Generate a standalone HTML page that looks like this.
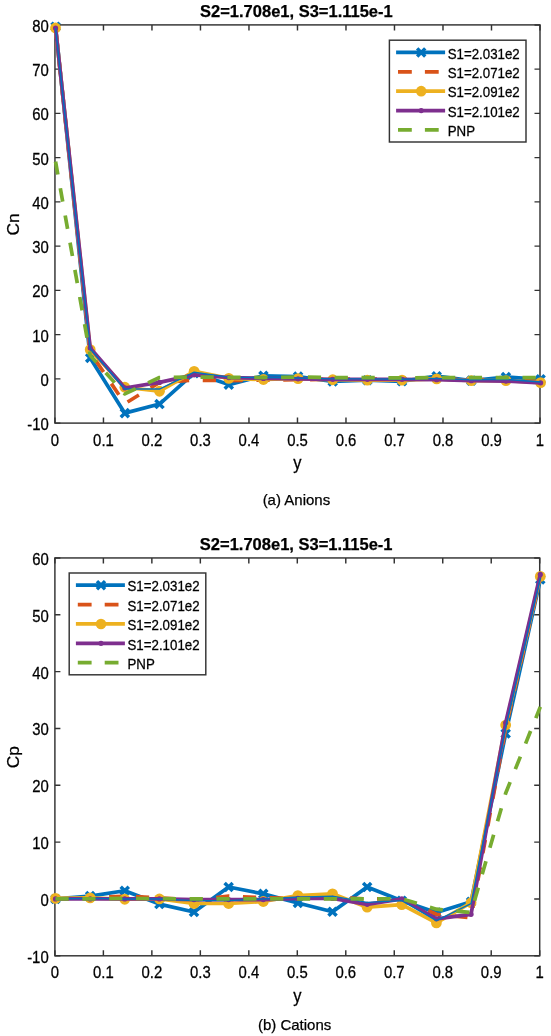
<!DOCTYPE html>
<html><head><meta charset="utf-8"><title>Cn and Cp plots</title>
<style>html,body{margin:0;padding:0;background:#fff;width:551px;height:1036px;overflow:hidden}svg{display:block}</style>
</head><body>
<svg width="551" height="1036" viewBox="0 0 551 1036" font-family='"Liberation Sans", Arial, Helvetica, sans-serif' fill="#000"><style>text{stroke:#000;stroke-width:0.25px}</style>
<path d="M54.95 423.1v-5.5M54.95 24.9v5.5M103.46 423.1v-5.5M103.46 24.9v5.5M151.96 423.1v-5.5M151.96 24.9v5.5M200.46 423.1v-5.5M200.46 24.9v5.5M248.97 423.1v-5.5M248.97 24.9v5.5M297.48 423.1v-5.5M297.48 24.9v5.5M345.98 423.1v-5.5M345.98 24.9v5.5M394.48 423.1v-5.5M394.48 24.9v5.5M442.99 423.1v-5.5M442.99 24.9v5.5M491.5 423.1v-5.5M491.5 24.9v5.5M540 423.1v-5.5M540 24.9v5.5M54.95 24.9h5.5M540 24.9h-5.5M54.95 69.14h5.5M540 69.14h-5.5M54.95 113.39h5.5M540 113.39h-5.5M54.95 157.63h5.5M540 157.63h-5.5M54.95 201.88h5.5M540 201.88h-5.5M54.95 246.12h5.5M540 246.12h-5.5M54.95 290.37h5.5M540 290.37h-5.5M54.95 334.61h5.5M540 334.61h-5.5M54.95 378.86h5.5M540 378.86h-5.5M54.95 423.1h5.5M540 423.1h-5.5" stroke="#333333" stroke-width="1.45" fill="none"/>
<rect x="54.95" y="24.9" width="485.05" height="398.2" fill="none" stroke="#333333" stroke-width="1.45"/>
<g font-size="14.9"><text transform="matrix(1 0 0 1.1 54.95 445.7)" text-anchor="middle">0</text><text transform="matrix(1 0 0 1.1 103.46 445.7)" text-anchor="middle">0.1</text><text transform="matrix(1 0 0 1.1 151.96 445.7)" text-anchor="middle">0.2</text><text transform="matrix(1 0 0 1.1 200.46 445.7)" text-anchor="middle">0.3</text><text transform="matrix(1 0 0 1.1 248.97 445.7)" text-anchor="middle">0.4</text><text transform="matrix(1 0 0 1.1 297.48 445.7)" text-anchor="middle">0.5</text><text transform="matrix(1 0 0 1.1 345.98 445.7)" text-anchor="middle">0.6</text><text transform="matrix(1 0 0 1.1 394.48 445.7)" text-anchor="middle">0.7</text><text transform="matrix(1 0 0 1.1 442.99 445.7)" text-anchor="middle">0.8</text><text transform="matrix(1 0 0 1.1 491.5 445.7)" text-anchor="middle">0.9</text><text transform="matrix(1 0 0 1.1 540 445.7)" text-anchor="middle">1</text><text transform="matrix(1 0 0 1.1 48.75 31.8)" text-anchor="end">80</text><text transform="matrix(1 0 0 1.1 48.75 76.04)" text-anchor="end">70</text><text transform="matrix(1 0 0 1.1 48.75 120.29)" text-anchor="end">60</text><text transform="matrix(1 0 0 1.1 48.75 164.53)" text-anchor="end">50</text><text transform="matrix(1 0 0 1.1 48.75 208.78)" text-anchor="end">40</text><text transform="matrix(1 0 0 1.1 48.75 253.02)" text-anchor="end">30</text><text transform="matrix(1 0 0 1.1 48.75 297.27)" text-anchor="end">20</text><text transform="matrix(1 0 0 1.1 48.75 341.51)" text-anchor="end">10</text><text transform="matrix(1 0 0 1.1 48.75 385.76)" text-anchor="end">0</text><text transform="matrix(1 0 0 1.1 48.75 430)" text-anchor="end">-10</text></g>
<text transform="matrix(1 0 0 1.06 297.48 469.2)" text-anchor="middle" font-size="16.5">y</text>
<text transform="translate(18.9 224.4) scale(1.03 1.05) rotate(-90)" text-anchor="middle" font-size="16.5">Cn</text>
<text x="296.38" y="16.9" text-anchor="middle" font-size="16.5" font-weight="bold">S2=1.708e1, S3=1.115e-1</text>
<text x="296.4" y="505.2" text-anchor="middle" font-size="15">(a) Anions</text>
<g>
<polyline points="55.55,26.67 90.2,358.06 124.84,413.15 159.49,404.07 194.14,373.1 228.78,384.61 263.43,375.76 298.08,376.64 332.72,381.51 367.37,380.18 402.01,381.29 436.66,376.2 471.31,380.63 505.95,377.09 540.6,379.3" fill="none" stroke="#0072BD" stroke-width="3.7" stroke-linejoin="round"/>
<path d="M51.5 22.62L59.6 30.72M51.5 30.72L59.6 22.62M86.15 354.01L94.25 362.11M86.15 362.11L94.25 354.01M120.79 409.1L128.89 417.2M120.79 417.2L128.89 409.1M155.44 400.02L163.54 408.12M155.44 408.12L163.54 400.02M190.09 369.05L198.19 377.15M190.09 377.15L198.19 369.05M224.73 380.56L232.83 388.66M224.73 388.66L232.83 380.56M259.38 371.71L267.48 379.81M259.38 379.81L267.48 371.71M294.03 372.59L302.13 380.69M294.03 380.69L302.13 372.59M328.67 377.46L336.77 385.56M328.67 385.56L336.77 377.46M363.32 376.13L371.42 384.23M363.32 384.23L371.42 376.13M397.96 377.24L406.06 385.34M397.96 385.34L406.06 377.24M432.61 372.15L440.71 380.25M432.61 380.25L440.71 372.15M467.26 376.58L475.36 384.68M467.26 384.68L475.36 376.58M501.9 373.04L510 381.14M501.9 381.14L510 373.04M536.55 375.25L544.65 383.35M536.55 383.35L544.65 375.25" stroke="#0072BD" stroke-width="3.5" fill="none"/>
<path d="M56.1 33.12L57.54 46.63M59.03 60.59L60.48 74.1M61.97 88.05L63.41 101.57M64.9 115.52L66.34 129.04M67.84 142.99L69.28 156.51M70.77 170.46L72.21 183.98M73.7 197.93L75.15 211.45M76.64 225.4L78.08 238.91M79.57 252.87L81.02 266.38M82.51 280.34L83.95 293.85M85.44 307.81L86.89 321.32M88.38 335.28L89.82 348.79M96.02 360.93L103.55 372.09M111.33 383.62L118.87 394.78M127.56 401.97L138.9 395.01M150.62 387.83L159.49 382.4L162.36 382.21M175.96 381.34L189.14 380.5M202.76 380.29L215.96 380.46M229.59 380.62L242.79 380.45M256.41 380.27L263.43 380.18L269.61 380.1M283.24 379.93L296.44 379.76M310.07 379.59L323.27 379.42M336.9 379.24L350.1 379.08M363.73 378.9L367.37 378.86L376.92 378.98M390.55 379.15L402.01 379.3L403.75 379.28M417.38 379.1L430.58 378.93M444.21 379.05L457.4 379.39M471.03 379.73L471.31 379.74L484.23 379.58M497.86 379.4L505.95 379.3L511.05 379.62M524.65 380.49L537.83 381.33" fill="none" stroke="#D95319" stroke-width="3.7" stroke-linejoin="round"/>
<polyline points="55.55,28 90.2,349.65 124.84,387.26 159.49,391.24 194.14,371.33 228.78,378.41 263.43,379.52 298.08,378.63 332.72,379.74 367.37,380.09 402.01,380.18 436.66,378.86 471.31,380.63 505.95,380.63 540.6,382.62" fill="none" stroke="#EDB120" stroke-width="3.7" stroke-linejoin="round"/>
<circle cx="55.55" cy="28" r="5.4" fill="#EDB120"/><circle cx="90.2" cy="349.65" r="5.4" fill="#EDB120"/><circle cx="124.84" cy="387.26" r="5.4" fill="#EDB120"/><circle cx="159.49" cy="391.24" r="5.4" fill="#EDB120"/><circle cx="194.14" cy="371.33" r="5.4" fill="#EDB120"/><circle cx="228.78" cy="378.41" r="5.4" fill="#EDB120"/><circle cx="263.43" cy="379.52" r="5.4" fill="#EDB120"/><circle cx="298.08" cy="378.63" r="5.4" fill="#EDB120"/><circle cx="332.72" cy="379.74" r="5.4" fill="#EDB120"/><circle cx="367.37" cy="380.09" r="5.4" fill="#EDB120"/><circle cx="402.01" cy="380.18" r="5.4" fill="#EDB120"/><circle cx="436.66" cy="378.86" r="5.4" fill="#EDB120"/><circle cx="471.31" cy="380.63" r="5.4" fill="#EDB120"/><circle cx="505.95" cy="380.63" r="5.4" fill="#EDB120"/><circle cx="540.6" cy="382.62" r="5.4" fill="#EDB120"/>
<polyline points="55.55,28 90.2,347.88 124.84,387.97 159.49,382.4 194.14,374.87 228.78,377.53 263.43,378.41 298.08,378.86 332.72,379.3 367.37,379.3 402.01,379.3 436.66,379.74 471.31,380.63 505.95,381.07 540.6,382.84" fill="none" stroke="#7E2F8E" stroke-width="3.7" stroke-linejoin="round"/>
<circle cx="55.55" cy="28" r="2.6" fill="#7E2F8E"/><circle cx="90.2" cy="347.88" r="2.6" fill="#7E2F8E"/><circle cx="124.84" cy="387.97" r="2.6" fill="#7E2F8E"/><circle cx="159.49" cy="382.4" r="2.6" fill="#7E2F8E"/><circle cx="194.14" cy="374.87" r="2.6" fill="#7E2F8E"/><circle cx="228.78" cy="377.53" r="2.6" fill="#7E2F8E"/><circle cx="263.43" cy="378.41" r="2.6" fill="#7E2F8E"/><circle cx="298.08" cy="378.86" r="2.6" fill="#7E2F8E"/><circle cx="332.72" cy="379.3" r="2.6" fill="#7E2F8E"/><circle cx="367.37" cy="379.3" r="2.6" fill="#7E2F8E"/><circle cx="402.01" cy="379.3" r="2.6" fill="#7E2F8E"/><circle cx="436.66" cy="379.74" r="2.6" fill="#7E2F8E"/><circle cx="471.31" cy="380.63" r="2.6" fill="#7E2F8E"/><circle cx="505.95" cy="381.07" r="2.6" fill="#7E2F8E"/><circle cx="540.6" cy="382.84" r="2.6" fill="#7E2F8E"/>
<polyline points="55.55,28 90.2,348.77 124.84,389.03 159.49,389.03 194.14,372.22 228.78,377.09 263.43,377.53 298.08,377.97 332.72,378.86 367.37,378.86 402.01,379.3 436.66,378.41 471.31,379.74 505.95,379.3 540.6,381.95" fill="none" stroke="#0072BD" stroke-width="1.4" stroke-linejoin="round"/>
<path d="M55.55 161.62L57.85 174.48M60.32 188.29L62.71 201.66M65.18 215.46L67.57 228.84M70.04 242.64L72.43 256.01M74.9 269.82L77.29 283.19M79.75 297L82.14 310.37M84.61 324.18L87 337.55M89.47 351.35L90.2 355.41L96.45 362.36M105.72 372.65L114.69 382.62M123.96 392.92L124.84 393.9L135.66 388.79M148.05 382.93L159.49 377.53L160.1 377.52M173.73 377.35L186.93 377.18M200.56 377.13L213.76 377.21M227.39 377.3L228.78 377.31L240.59 377.38M254.22 377.47L263.43 377.53L267.42 377.48M281.05 377.3L294.24 377.13M307.87 377.21L321.07 377.38M334.7 377.53L347.9 377.53M361.53 377.53L367.37 377.53L374.73 377.62M388.36 377.8L401.56 377.96M415.19 377.8L428.39 377.63M442.02 377.53L455.22 377.53M468.85 377.53L471.31 377.53L482.05 377.53M495.68 377.53L505.95 377.53L508.88 377.53M522.51 377.53L535.71 377.53" fill="none" stroke="#77AC30" stroke-width="3.7" stroke-linejoin="round"/>
</g>
<rect x="389.4" y="40.2" width="136.6" height="101.8" fill="#fff" stroke="#333333" stroke-width="1.45"/>
<line x1="396.1" y1="52.4" x2="445.1" y2="52.4" stroke="#0072BD" stroke-width="3.7"/>
<path d="M417.15 48.35L425.25 56.45M417.15 56.45L425.25 48.35" stroke="#0072BD" stroke-width="3.4"/>
<text transform="matrix(1 0 0 1.1 447.7 58.6)" font-size="13.3">S1=2.031e2</text>
<line x1="396.1" y1="71.78" x2="445.1" y2="71.78" stroke="#D95319" stroke-width="3.7" stroke-dasharray="13.8 13.1" stroke-dashoffset="25"/>
<text transform="matrix(1 0 0 1.1 447.7 77.98)" font-size="13.3">S1=2.071e2</text>
<line x1="396.1" y1="91.16" x2="445.1" y2="91.16" stroke="#EDB120" stroke-width="3.7"/>
<circle cx="421.2" cy="91.16" r="5.3" fill="#EDB120"/>
<text transform="matrix(1 0 0 1.1 447.7 97.36)" font-size="13.3">S1=2.091e2</text>
<line x1="396.1" y1="110.54" x2="445.1" y2="110.54" stroke="#7E2F8E" stroke-width="3.7"/>
<circle cx="421.2" cy="110.54" r="2.6" fill="#7E2F8E"/>
<text transform="matrix(1 0 0 1.1 447.7 116.74)" font-size="13.3">S1=2.101e2</text>
<line x1="396.1" y1="129.92" x2="445.1" y2="129.92" stroke="#77AC30" stroke-width="3.7" stroke-dasharray="13.8 13.1" stroke-dashoffset="25"/>
<text transform="matrix(1 0 0 1.1 447.7 136.12)" font-size="13.3">PNP</text>
<path d="M54.9 955.8v-5.5M54.9 557.95v5.5M103.38 955.8v-5.5M103.38 557.95v5.5M151.86 955.8v-5.5M151.86 557.95v5.5M200.34 955.8v-5.5M200.34 557.95v5.5M248.82 955.8v-5.5M248.82 557.95v5.5M297.3 955.8v-5.5M297.3 557.95v5.5M345.78 955.8v-5.5M345.78 557.95v5.5M394.26 955.8v-5.5M394.26 557.95v5.5M442.74 955.8v-5.5M442.74 557.95v5.5M491.22 955.8v-5.5M491.22 557.95v5.5M539.7 955.8v-5.5M539.7 557.95v5.5M54.9 557.95h5.5M539.7 557.95h-5.5M54.9 614.79h5.5M539.7 614.79h-5.5M54.9 671.62h5.5M539.7 671.62h-5.5M54.9 728.46h5.5M539.7 728.46h-5.5M54.9 785.29h5.5M539.7 785.29h-5.5M54.9 842.13h5.5M539.7 842.13h-5.5M54.9 898.96h5.5M539.7 898.96h-5.5M54.9 955.8h5.5M539.7 955.8h-5.5" stroke="#333333" stroke-width="1.45" fill="none"/>
<rect x="54.9" y="557.95" width="484.8" height="397.85" fill="none" stroke="#333333" stroke-width="1.45"/>
<g font-size="14.9"><text transform="matrix(1 0 0 1.1 54.9 978.4)" text-anchor="middle">0</text><text transform="matrix(1 0 0 1.1 103.38 978.4)" text-anchor="middle">0.1</text><text transform="matrix(1 0 0 1.1 151.86 978.4)" text-anchor="middle">0.2</text><text transform="matrix(1 0 0 1.1 200.34 978.4)" text-anchor="middle">0.3</text><text transform="matrix(1 0 0 1.1 248.82 978.4)" text-anchor="middle">0.4</text><text transform="matrix(1 0 0 1.1 297.3 978.4)" text-anchor="middle">0.5</text><text transform="matrix(1 0 0 1.1 345.78 978.4)" text-anchor="middle">0.6</text><text transform="matrix(1 0 0 1.1 394.26 978.4)" text-anchor="middle">0.7</text><text transform="matrix(1 0 0 1.1 442.74 978.4)" text-anchor="middle">0.8</text><text transform="matrix(1 0 0 1.1 491.22 978.4)" text-anchor="middle">0.9</text><text transform="matrix(1 0 0 1.1 539.7 978.4)" text-anchor="middle">1</text><text transform="matrix(1 0 0 1.1 48.7 564.85)" text-anchor="end">60</text><text transform="matrix(1 0 0 1.1 48.7 621.69)" text-anchor="end">50</text><text transform="matrix(1 0 0 1.1 48.7 678.52)" text-anchor="end">40</text><text transform="matrix(1 0 0 1.1 48.7 735.36)" text-anchor="end">30</text><text transform="matrix(1 0 0 1.1 48.7 792.19)" text-anchor="end">20</text><text transform="matrix(1 0 0 1.1 48.7 849.03)" text-anchor="end">10</text><text transform="matrix(1 0 0 1.1 48.7 905.86)" text-anchor="end">0</text><text transform="matrix(1 0 0 1.1 48.7 962.7)" text-anchor="end">-10</text></g>
<text transform="matrix(1 0 0 1.06 297.3 1001.9)" text-anchor="middle" font-size="16.5">y</text>
<text transform="translate(18.9 757.27) scale(1.03 1.05) rotate(-90)" text-anchor="middle" font-size="16.5">Cp</text>
<text x="296.2" y="549.8" text-anchor="middle" font-size="16.5" font-weight="bold">S2=1.708e1, S3=1.115e-1</text>
<text x="294.6" y="1029.8" text-anchor="middle" font-size="15">(b) Cations</text>
<g>
<polyline points="55.5,898.96 90.13,896.12 124.76,890.72 159.39,904.08 194.01,912.04 228.64,887.03 263.27,893.85 297.9,902.94 332.53,911.75 367.16,887.03 401.79,900.67 436.41,912.6 471.04,901.81 505.67,733.57 540.3,579.55" fill="none" stroke="#0072BD" stroke-width="3.7" stroke-linejoin="round"/>
<path d="M51.45 894.91L59.55 903.01M51.45 903.01L59.55 894.91M86.08 892.07L94.18 900.17M86.08 900.17L94.18 892.07M120.71 886.67L128.81 894.77M120.71 894.77L128.81 886.67M155.34 900.03L163.44 908.13M155.34 908.13L163.44 900.03M189.96 907.99L198.06 916.09M189.96 916.09L198.06 907.99M224.59 882.98L232.69 891.08M224.59 891.08L232.69 882.98M259.22 889.8L267.32 897.9M259.22 897.9L267.32 889.8M293.85 898.89L301.95 906.99M293.85 906.99L301.95 898.89M328.48 907.7L336.58 915.8M328.48 915.8L336.58 907.7M363.11 882.98L371.21 891.08M363.11 891.08L371.21 882.98M397.74 896.62L405.84 904.72M397.74 904.72L405.84 896.62M432.36 908.55L440.46 916.65M432.36 916.65L440.46 908.55M466.99 897.76L475.09 905.86M466.99 905.86L475.09 897.76M501.62 729.52L509.72 737.62M501.62 737.62L509.72 729.52M536.25 575.5L544.35 583.6M536.25 583.6L544.35 575.5" stroke="#0072BD" stroke-width="3.5" fill="none"/>
<path d="M55.5 898.96L68.69 898.53M82.32 898.08L90.13 897.83L95.51 897.56M109.12 896.89L122.31 896.24M135.92 896.67L149.11 897.32M162.72 898.05L175.89 898.91M189.49 899.8L194.01 900.1L202.63 899.11M216.18 897.55L228.64 896.12L229.3 896.15M242.91 896.83L256.1 897.47M269.72 897.93L282.92 898.15M296.54 898.37L297.9 898.4L309.74 898.01M323.36 897.56L332.53 897.26L336.55 897.46M350.17 898.13L363.35 898.78M376.98 898.96L390.18 898.96M403.64 899.79L415.77 905.16M428.29 910.71L436.41 914.31L440.75 914.74M454.32 916.07L467.46 917.37M472.9 907.57L475.34 894.21M477.87 880.41L480.31 867.05M482.84 853.26L485.28 839.9M487.81 826.1L490.25 812.74M492.77 798.94L495.22 785.58M497.74 771.79L500.19 758.43M502.71 744.63L505.16 731.27M508.17 717.58L511.21 704.35M514.35 690.69L517.4 677.46M520.54 663.8L523.58 650.57M526.72 636.91L529.76 623.68M532.9 610.02L535.94 596.79M539.09 583.12L540.3 577.84" fill="none" stroke="#D95319" stroke-width="3.7" stroke-linejoin="round"/>
<polyline points="55.5,898.4 90.13,897.83 124.76,899.25 159.39,898.96 194.01,903.51 228.64,903.51 263.27,901.52 297.9,895.55 332.53,893.85 367.16,907.21 401.79,904.65 436.41,922.84 471.04,902.77 505.67,725.05 540.3,576.42" fill="none" stroke="#EDB120" stroke-width="3.7" stroke-linejoin="round"/>
<circle cx="55.5" cy="898.4" r="5.4" fill="#EDB120"/><circle cx="90.13" cy="897.83" r="5.4" fill="#EDB120"/><circle cx="124.76" cy="899.25" r="5.4" fill="#EDB120"/><circle cx="159.39" cy="898.96" r="5.4" fill="#EDB120"/><circle cx="194.01" cy="903.51" r="5.4" fill="#EDB120"/><circle cx="228.64" cy="903.51" r="5.4" fill="#EDB120"/><circle cx="263.27" cy="901.52" r="5.4" fill="#EDB120"/><circle cx="297.9" cy="895.55" r="5.4" fill="#EDB120"/><circle cx="332.53" cy="893.85" r="5.4" fill="#EDB120"/><circle cx="367.16" cy="907.21" r="5.4" fill="#EDB120"/><circle cx="401.79" cy="904.65" r="5.4" fill="#EDB120"/><circle cx="436.41" cy="922.84" r="5.4" fill="#EDB120"/><circle cx="471.04" cy="902.77" r="5.4" fill="#EDB120"/><circle cx="505.67" cy="725.05" r="5.4" fill="#EDB120"/><circle cx="540.3" cy="576.42" r="5.4" fill="#EDB120"/>
<polyline points="55.5,898.96 90.13,898.96 124.76,898.96 159.39,898.96 194.01,899.53 228.64,899.53 263.27,899.53 297.9,898.4 332.53,898.4 367.16,904.36 401.79,898.96 436.41,918.86 471.04,914.31 505.67,722.77 540.3,574.43" fill="none" stroke="#7E2F8E" stroke-width="3.7" stroke-linejoin="round"/>
<circle cx="55.5" cy="898.96" r="2.6" fill="#7E2F8E"/><circle cx="90.13" cy="898.96" r="2.6" fill="#7E2F8E"/><circle cx="124.76" cy="898.96" r="2.6" fill="#7E2F8E"/><circle cx="159.39" cy="898.96" r="2.6" fill="#7E2F8E"/><circle cx="194.01" cy="899.53" r="2.6" fill="#7E2F8E"/><circle cx="228.64" cy="899.53" r="2.6" fill="#7E2F8E"/><circle cx="263.27" cy="899.53" r="2.6" fill="#7E2F8E"/><circle cx="297.9" cy="898.4" r="2.6" fill="#7E2F8E"/><circle cx="332.53" cy="898.4" r="2.6" fill="#7E2F8E"/><circle cx="367.16" cy="904.36" r="2.6" fill="#7E2F8E"/><circle cx="401.79" cy="898.96" r="2.6" fill="#7E2F8E"/><circle cx="436.41" cy="918.86" r="2.6" fill="#7E2F8E"/><circle cx="471.04" cy="914.31" r="2.6" fill="#7E2F8E"/><circle cx="505.67" cy="722.77" r="2.6" fill="#7E2F8E"/><circle cx="540.3" cy="574.43" r="2.6" fill="#7E2F8E"/>
<polyline points="55.5,898.96 90.13,898.4 124.76,898.96 159.39,898.96 194.01,900.67 228.64,900.67 263.27,898.96 297.9,897.26 332.53,896.12 367.16,902.37 401.79,900.67 436.41,920.56 471.04,903.51 505.67,727.32 540.3,577.84" fill="none" stroke="#0072BD" stroke-width="1.4" stroke-linejoin="round"/>
<path d="M55.5 898.96L68.7 898.96M82.33 898.96L90.13 898.96L95.53 898.88M109.16 898.65L122.36 898.44M135.99 898.49L149.18 898.6M162.81 898.71L176.01 898.82M189.64 898.93L194.01 898.96L202.84 898.96M216.47 898.96L228.64 898.96L229.67 898.96M243.3 898.96L256.5 898.96M270.13 898.96L283.33 898.96M296.96 898.96L297.9 898.96L310.16 898.96M323.79 898.96L332.53 898.96L336.99 898.96M350.62 898.96L363.82 898.96M377.45 898.88L390.65 898.77M404.18 899.41L416.84 903.25M429.92 907.22L436.41 909.19L442.81 909.82M456.38 911.16L469.52 912.45M474.51 900.67L478.29 887.64M482.19 874.19L485.97 861.16M489.87 847.71L493.65 834.68M497.55 821.23L501.33 808.2M505.24 794.75L505.67 793.25L510.13 782.13M515.33 769.16L520.37 756.59M525.57 743.61L530.6 731.05M535.81 718.07L540.3 706.86" fill="none" stroke="#77AC30" stroke-width="3.7" stroke-linejoin="round"/>
</g>
<rect x="69.2" y="573" width="136.6" height="101.8" fill="#fff" stroke="#333333" stroke-width="1.45"/>
<line x1="75.9" y1="585.2" x2="124.9" y2="585.2" stroke="#0072BD" stroke-width="3.7"/>
<path d="M96.95 581.15L105.05 589.25M96.95 589.25L105.05 581.15" stroke="#0072BD" stroke-width="3.4"/>
<text transform="matrix(1 0 0 1.1 127.5 591.4)" font-size="13.3">S1=2.031e2</text>
<line x1="75.9" y1="604.58" x2="124.9" y2="604.58" stroke="#D95319" stroke-width="3.7" stroke-dasharray="13.8 13.1" stroke-dashoffset="25"/>
<text transform="matrix(1 0 0 1.1 127.5 610.78)" font-size="13.3">S1=2.071e2</text>
<line x1="75.9" y1="623.96" x2="124.9" y2="623.96" stroke="#EDB120" stroke-width="3.7"/>
<circle cx="101" cy="623.96" r="5.3" fill="#EDB120"/>
<text transform="matrix(1 0 0 1.1 127.5 630.16)" font-size="13.3">S1=2.091e2</text>
<line x1="75.9" y1="643.34" x2="124.9" y2="643.34" stroke="#7E2F8E" stroke-width="3.7"/>
<circle cx="101" cy="643.34" r="2.6" fill="#7E2F8E"/>
<text transform="matrix(1 0 0 1.1 127.5 649.54)" font-size="13.3">S1=2.101e2</text>
<line x1="75.9" y1="662.72" x2="124.9" y2="662.72" stroke="#77AC30" stroke-width="3.7" stroke-dasharray="13.8 13.1" stroke-dashoffset="25"/>
<text transform="matrix(1 0 0 1.1 127.5 668.92)" font-size="13.3">PNP</text>
</svg>
</body></html>
